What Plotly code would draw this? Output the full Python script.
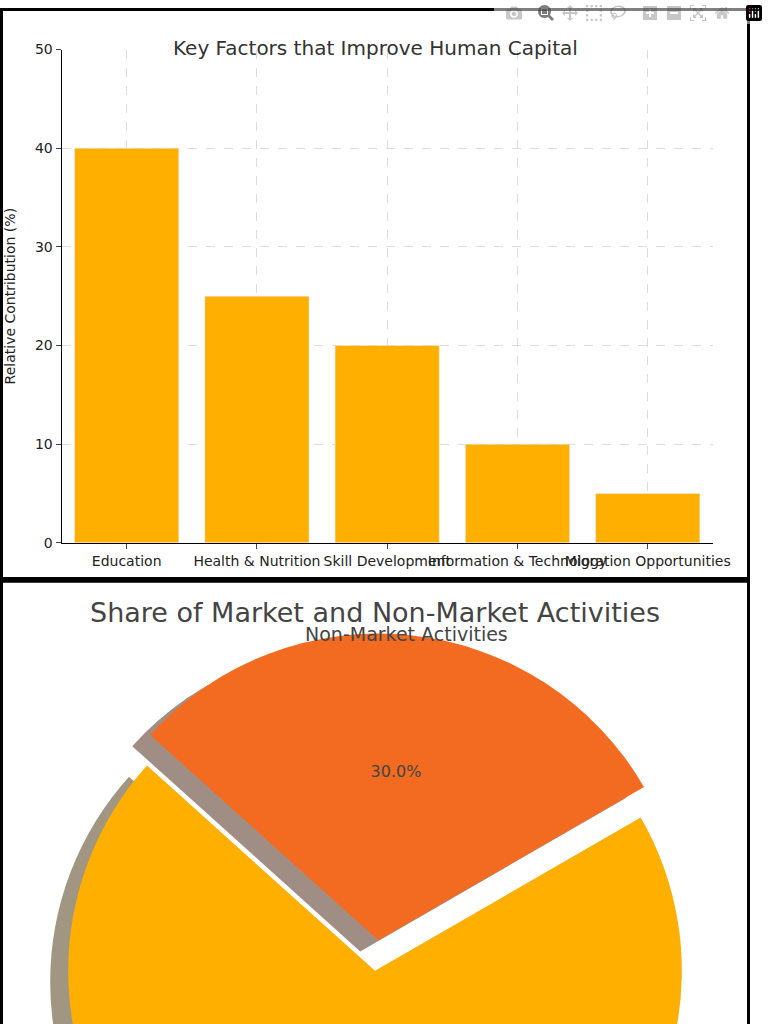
import plotly.graph_objects as go

factors = ["Education", "Health & Nutrition", "Skill Development",
           "Information & Technology", "Migration Opportunities"]
contribution = [40, 25, 20, 10, 5]

activities = ["Non-Market Activities", "Market Activities"]
shares = [30, 70]

H = 1400  # taller than the window, so the pie is cut off like the reference


def py(px):
    return 1 - px / H


fig = go.Figure()
fig.add_trace(go.Bar(x=factors, y=contribution, marker_color="#FFAF00",
                     width=0.8, showlegend=False))

# shadow pie, offset slightly
fig.add_trace(go.Pie(values=shares, labels=activities, sort=False, direction="clockwise",
                     rotation=-48, pull=[0.1, 0], textinfo="none", hoverinfo="skip",
                     marker=dict(colors=["#A08E85", "#A09682"]), showlegend=False,
                     domain=dict(x=[0.04 - 0.014, 0.94 - 0.014], y=[py(1318) - 0.008, py(630) - 0.008])))
fig.add_trace(go.Pie(values=shares, labels=activities, sort=False, direction="clockwise",
                     rotation=-48, pull=[0.1, 0], textinfo="percent",
                     texttemplate="%{percent:.1%}", textposition="inside",
                     insidetextorientation="horizontal",
                     textfont=dict(size=16, color="#444"),
                     marker=dict(colors=["#F26B21", "#FFAF00"]), showlegend=False,
                     domain=dict(x=[0.05, 0.95], y=[py(1318), py(630)])))

fig.update_layout(
    width=768, height=H, margin=dict(l=0, r=0, t=0, b=0),
    plot_bgcolor="white", paper_bgcolor="white",
    font=dict(family="DejaVu Sans", size=14, color="#222"),
    xaxis=dict(domain=[63 / 768, 730 / 768], showline=True, linecolor="black",
               ticks="outside", tickangle=0, showgrid=True, gridcolor="#ddd", griddash="dash"),
    yaxis=dict(domain=[py(541), py(42)], range=[0, 50], dtick=10, showline=True,
               linecolor="black", ticks="outside", showgrid=True, gridcolor="#ddd",
               griddash="dash", zeroline=False,
               title=dict(text="Relative Contribution (%)", font=dict(size=14))),
    annotations=[
        dict(text="Key Factors that Improve Human Capital", x=0.5, y=py(26), xref="paper",
             yref="paper", showarrow=False, font=dict(size=20, color="#333")),
        dict(text="Share of Market and Non-Market Activities", x=0.5, y=py(611), xref="paper",
             yref="paper", showarrow=False, font=dict(size=27, color="#444")),
        dict(text="Non-Market Activities", x=522 / 768, y=py(633), xref="paper",
             yref="paper", showarrow=False, font=dict(size=19, color="#444")),
    ],
    shapes=[
        dict(type="rect", xref="paper", yref="paper", x0=0.002, x1=0.998, y0=py(577), y1=0.999,
             line=dict(color="black", width=3)),
        dict(type="rect", xref="paper", yref="paper", x0=0.002, x1=0.998, y0=0, y1=py(580),
             line=dict(color="black", width=3)),
    ],
)

fig.write_html("out.html",
               post_script="document.body.style.margin='0';"
                           "document.body.style.overflow='hidden';"
                           "document.documentElement.style.overflow='hidden';")
